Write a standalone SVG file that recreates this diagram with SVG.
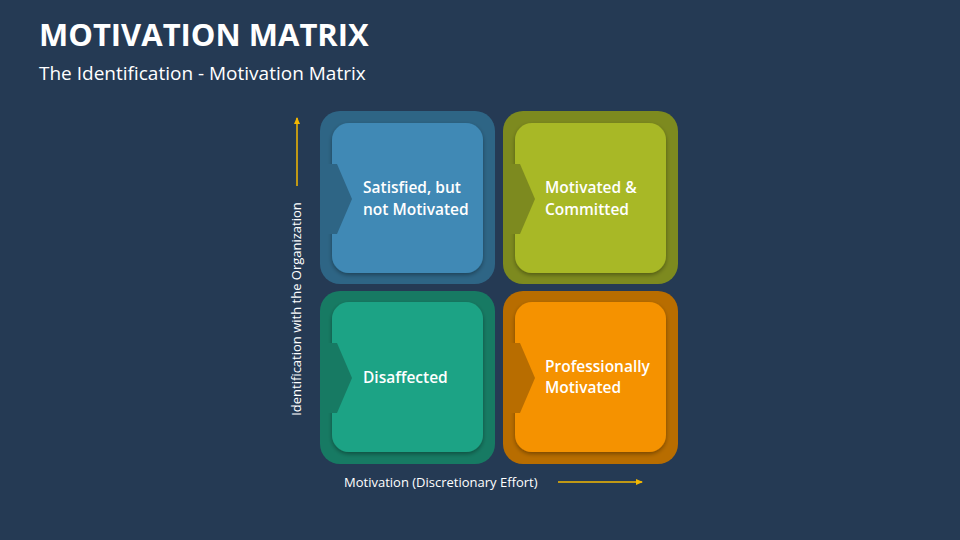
<svg xmlns="http://www.w3.org/2000/svg" width="960" height="540" viewBox="0 0 960 540">
<style>
.t{font-family:"Open Sans","Liberation Sans",sans-serif;fill:#fff}
.q{font-size:15.5px;font-weight:600}
.ax{font-size:13px;font-weight:500}
.ln{stroke:#f5b800;stroke-width:1.5;fill:none}
</style>
<defs>
<marker id="ah" markerWidth="8" markerHeight="8" refX="6" refY="4" orient="auto" markerUnits="userSpaceOnUse"><path d="M0,1 L7,4 L0,7Z" fill="#f5b800"/></marker>
<filter id="sh" x="-10%" y="-10%" width="120%" height="120%"><feDropShadow dx="0" dy="2" stdDeviation="2" flood-color="#000" flood-opacity="0.35"/></filter>
</defs>
<rect width="960" height="540" fill="#253a54"/>
<text class="t" x="39" y="46" font-size="31" font-weight="700">MOTIVATION MATRIX</text>
<text class="t" x="39" y="80" font-size="19" font-weight="500">The Identification - Motivation Matrix</text>
<g id="q1">
<rect x="320" y="111" width="175" height="173" rx="20" fill="#2e6585"/>
<rect x="332" y="123" width="151" height="150" rx="17" fill="#3f89b5" filter="url(#sh)"/>
<polygon points="320,164 337,164 352,199 337,234 320,234" fill="#2e6585"/>
<text class="t q" x="363" y="193">Satisfied, but</text>
<text class="t q" x="363" y="215">not Motivated</text>
</g>
<g id="q2">
<rect x="503" y="111" width="175" height="173" rx="20" fill="#7d8a1f"/>
<rect x="515" y="123" width="151" height="150" rx="17" fill="#a8b826" filter="url(#sh)"/>
<polygon points="503,164 520,164 535,199 520,234 503,234" fill="#7d8a1f"/>
<text class="t q" x="545" y="193">Motivated &amp;</text>
<text class="t q" x="545" y="215">Committed</text>
</g>
<g id="q3">
<rect x="320" y="291" width="175" height="173" rx="20" fill="#177a63"/>
<rect x="332" y="302" width="151" height="150" rx="17" fill="#1fa385" filter="url(#sh)"/>
<polygon points="320,343 337,343 352,378 337,413 320,413" fill="#177a63"/>
<text class="t q" x="363" y="383">Disaffected</text>
</g>
<g id="q4">
<rect x="503" y="291" width="175" height="173" rx="20" fill="#b86d00"/>
<rect x="515" y="302" width="151" height="150" rx="17" fill="#f59200" filter="url(#sh)"/>
<polygon points="503,343 520,343 535,378 520,413 503,413" fill="#b86d00"/>
<text class="t q" x="545" y="372">Professionally</text>
<text class="t q" x="545" y="393">Motivated</text>
</g>
<g id="connectors">
<line class="ln" x1="297" y1="186" x2="297" y2="118" marker-end="url(#ah)"/>
<line class="ln" x1="558" y1="482" x2="642" y2="482" marker-end="url(#ah)"/>
</g>
<text class="t ax" transform="translate(301,309) rotate(-90)" text-anchor="middle">Identification with the Organization</text>
<text class="t ax" x="344" y="487">Motivation (Discretionary Effort)</text>
</svg>
